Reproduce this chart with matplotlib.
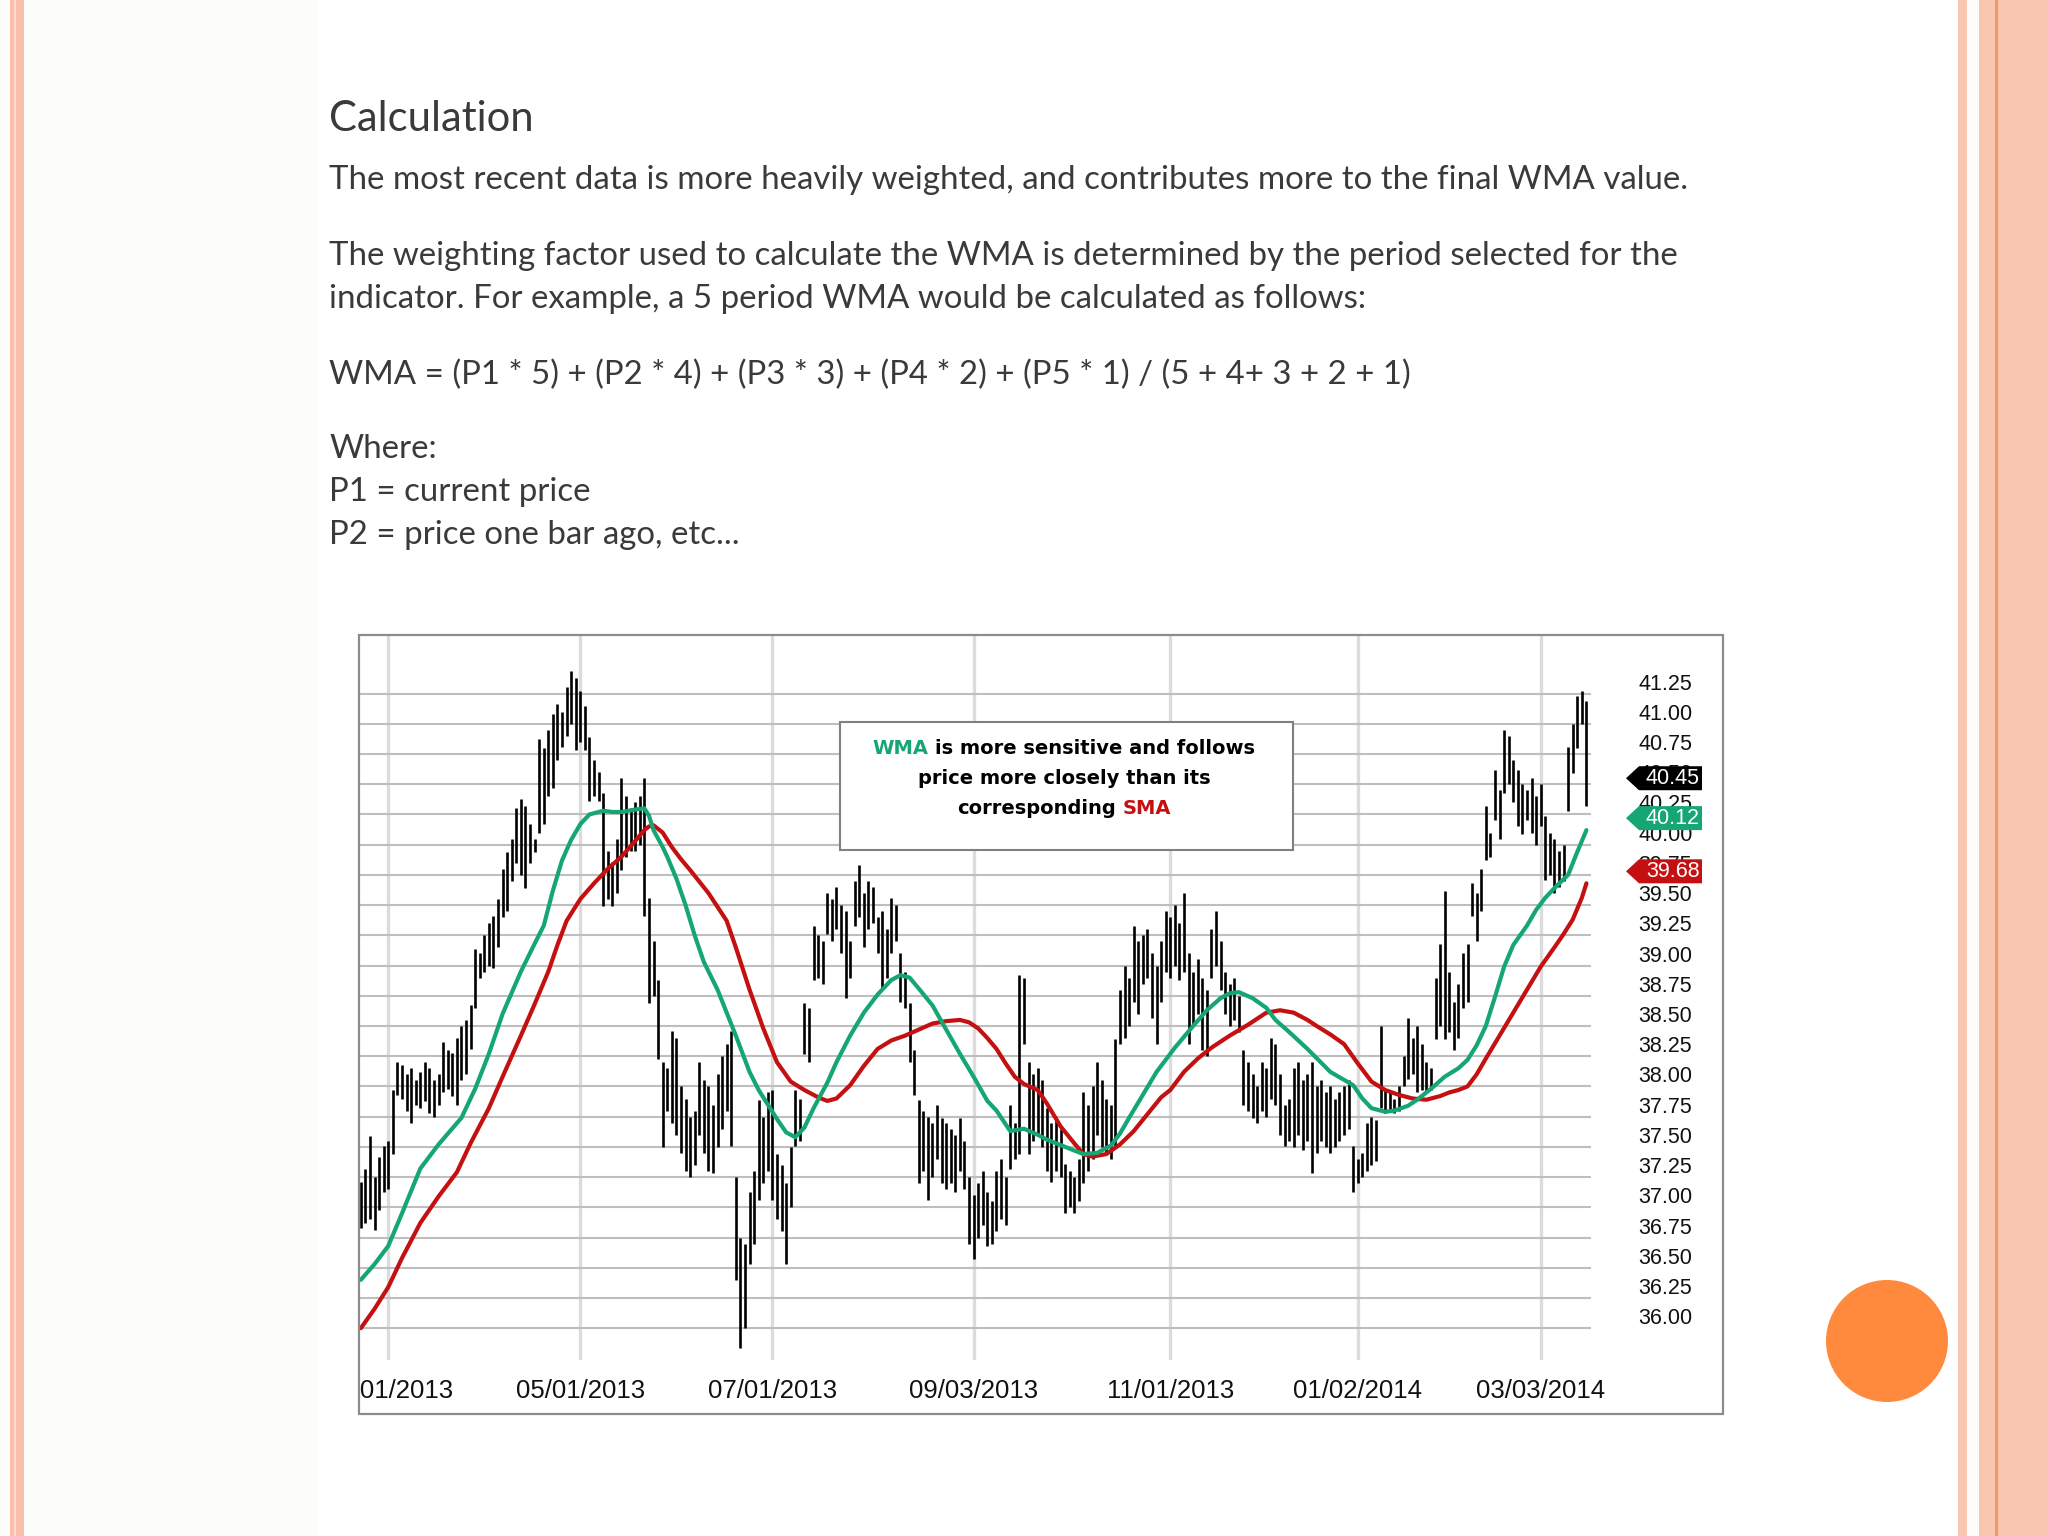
import numpy as np
import matplotlib.pyplot as plt
from matplotlib.patches import Rectangle, Polygon, Ellipse
from matplotlib import transforms as mtransforms

# daily bars, 2013-02-21 .. 2014-03-18 (high / low)
highs = [
    37.21, 37.32, 37.59, 37.25, 37.42, 37.51, 37.55, 37.97, 38.20, 38.18,
    38.10, 38.15, 38.05, 38.12, 38.20, 38.15, 38.05, 38.10, 38.37, 38.30,
    38.28, 38.40, 38.50, 38.55, 38.67, 39.14, 39.10, 39.25, 39.35, 39.41,
    39.55, 39.80, 39.94, 40.05, 40.30, 40.38, 40.32, 40.17, 40.05, 40.87,
    40.80, 40.95, 41.08, 41.16, 41.10, 41.30, 41.44, 41.38, 41.27, 41.15,
    40.89, 40.70, 40.60, 40.43, 39.95, 39.86, 40.05, 40.55, 40.40, 40.30,
    40.35, 40.40, 40.55, 39.56, 39.20, 38.88, 38.20, 38.15, 38.46, 38.40,
    38.00, 37.90, 37.75, 37.80, 38.20, 38.05, 38.00, 37.85, 38.10, 38.25,
    38.35, 38.46, 37.25, 36.75, 36.70, 37.13, 37.30, 37.89, 37.75, 37.95,
    37.97, 37.44, 37.35, 37.20, 37.50, 37.97, 37.90, 38.69, 38.65, 39.33,
    39.25, 39.20, 39.60, 39.55, 39.65, 39.50, 39.45, 39.20, 39.70, 39.83,
    39.60, 39.70, 39.65, 39.40, 39.45, 39.30, 39.56, 39.50, 39.10, 38.95,
    38.69, 38.30, 37.89, 37.80, 37.75, 37.70, 37.85, 37.74, 37.70, 37.65,
    37.60, 37.74, 37.55, 37.25, 37.10, 37.20, 37.30, 37.13, 37.05, 37.30,
    37.40, 37.25, 37.85, 37.70, 38.92, 38.90, 38.20, 38.10, 38.15, 38.05,
    37.82, 37.70, 37.75, 37.65, 37.36, 37.30, 37.25, 37.40, 37.95, 37.85,
    38.00, 38.20, 38.05, 37.90, 37.85, 38.39, 38.80, 39.00, 38.90, 39.33,
    39.20, 39.25, 39.30, 39.10, 39.00, 39.20, 39.45, 39.40, 39.50, 39.35,
    39.60, 39.10, 38.95, 39.05, 38.90, 38.80, 39.30, 39.45, 39.20, 38.95,
    38.85, 38.90, 38.75, 38.30, 38.20, 38.10, 38.00, 38.20, 38.15, 38.40,
    38.35, 38.10, 37.85, 37.90, 38.15, 38.20, 38.05, 38.10, 38.20, 38.00,
    38.05, 37.95, 38.00, 37.90, 37.95, 38.00, 38.05, 37.51, 37.40, 37.45,
    37.70, 37.75, 37.72, 38.50, 37.97, 37.95, 37.90, 38.00, 38.25, 38.57,
    38.40, 38.50, 38.35, 38.20, 38.15, 38.90, 39.18, 39.62, 38.95, 38.70,
    38.85, 39.10, 39.18, 39.68, 39.60, 39.80, 40.32, 40.10, 40.62, 40.45,
    40.95, 40.90, 40.70, 40.62, 40.50, 40.45, 40.55, 40.40, 40.50, 40.24,
    40.10, 40.05, 39.95, 40.00, 40.81, 41.00, 41.23, 41.27, 41.19,
]
lows = [
    36.83, 36.87, 36.90, 36.81, 36.98, 37.13, 37.15, 37.44, 37.93, 37.90,
    37.80, 37.70, 37.85, 37.82, 37.88, 37.78, 37.75, 37.85, 37.95, 37.98,
    37.92, 37.85, 38.05, 38.10, 38.31, 38.65, 38.90, 38.95, 39.00, 38.98,
    39.15, 39.40, 39.45, 39.70, 39.85, 39.75, 39.64, 39.85, 39.94, 40.10,
    40.17, 40.40, 40.47, 40.70, 40.81, 40.90, 41.00, 40.78, 40.85, 40.78,
    40.36, 40.40, 40.36, 39.49, 39.55, 39.49, 39.60, 39.79, 39.90, 39.95,
    39.95, 40.00, 39.41, 38.69, 38.75, 38.23, 37.50, 37.80, 37.70, 37.60,
    37.45, 37.30, 37.25, 37.35, 37.60, 37.45, 37.30, 37.28, 37.50, 37.65,
    37.80, 37.51, 36.40, 35.84, 36.00, 36.53, 36.70, 37.06, 37.20, 37.30,
    37.06, 36.90, 36.80, 36.53, 37.00, 37.51, 37.55, 38.27, 38.20, 38.88,
    38.90, 38.85, 39.26, 39.20, 39.30, 39.10, 38.73, 38.90, 39.33, 39.40,
    39.15, 39.30, 39.35, 39.10, 38.80, 38.90, 39.10, 39.20, 38.70, 38.65,
    38.20, 37.93, 37.20, 37.30, 37.06, 37.25, 37.40, 37.20, 37.15, 37.20,
    37.13, 37.30, 37.15, 36.70, 36.57, 36.75, 36.85, 36.68, 36.70, 36.80,
    36.90, 36.85, 37.32, 37.40, 37.44, 38.35, 37.44, 37.55, 37.60, 37.50,
    37.30, 37.21, 37.30, 37.25, 36.95, 37.00, 36.95, 37.05, 37.20, 37.30,
    37.40, 37.60, 37.50, 37.44, 37.40, 37.51, 38.35, 38.40, 38.50, 38.70,
    38.60, 38.85, 38.90, 38.57, 38.35, 38.70, 38.95, 38.90, 39.00, 38.88,
    38.95, 38.35, 38.50, 38.60, 38.30, 38.25, 38.90, 39.00, 38.80, 38.60,
    38.50, 38.55, 38.45, 37.85, 37.80, 37.74, 37.70, 37.80, 37.75, 37.90,
    37.85, 37.60, 37.51, 37.55, 37.50, 37.60, 37.47, 37.55, 37.28, 37.45,
    37.55, 37.50, 37.45, 37.50, 37.55, 37.60, 37.65, 37.13, 37.20, 37.25,
    37.30, 37.35, 37.38, 37.82, 37.78, 37.80, 37.78, 37.80, 38.00, 38.06,
    38.10, 37.95, 37.97, 37.95, 37.97, 38.39, 38.50, 38.39, 38.45, 38.30,
    38.40, 38.65, 38.70, 39.41, 39.20, 39.45, 39.87, 39.90, 40.20, 40.05,
    40.43, 40.50, 40.35, 40.15, 40.09, 40.20, 40.10, 40.00, 40.15, 39.71,
    39.75, 39.60, 39.65, 39.70, 40.28, 40.59, 40.80, 41.00, 40.32,
]
last_close = 40.45

# moving averages read at bar positions
wma_idx = [0, 3, 6, 9, 13, 17, 22, 25, 28, 31, 35, 38, 40, 42, 44, 46, 48, 50, 53, 55,
           57, 60, 62, 63, 64, 66, 67, 69, 71, 73, 75, 78, 80, 82, 85, 87, 89, 91, 93, 95,
           97, 99, 102, 104, 107, 110, 113, 116, 118, 120, 122, 125, 128, 131, 134, 137, 139,
           142, 145, 148, 150, 154, 158, 161, 164, 166, 168, 171, 174, 178, 182, 185, 188,
           190, 192, 195, 198, 200, 203, 207, 212, 217, 219, 221, 224, 226, 229, 231, 234,
           237, 240, 242, 244, 246, 248, 250, 252, 255, 257, 259, 261, 264, 266, 268]
wma_val = [36.40, 36.53, 36.68, 36.95, 37.32, 37.52, 37.74, 37.98, 38.27, 38.60,
           38.95, 39.18, 39.33, 39.62, 39.87, 40.04, 40.17, 40.25, 40.28, 40.27,
           40.27, 40.29, 40.30, 40.24, 40.12, 39.98, 39.90, 39.72, 39.50, 39.25,
           39.03, 38.80, 38.61, 38.42, 38.12, 37.97, 37.85, 37.73, 37.62, 37.58,
           37.66, 37.82, 38.03, 38.20, 38.42, 38.61, 38.76, 38.88, 38.92, 38.90,
           38.81, 38.67, 38.47, 38.27, 38.08, 37.88, 37.80, 37.63, 37.65, 37.60,
           37.56, 37.50, 37.44, 37.45, 37.51, 37.61, 37.74, 37.93, 38.12, 38.32,
           38.50, 38.63, 38.73, 38.77, 38.78, 38.73, 38.65, 38.55, 38.45, 38.31,
           38.12, 38.01, 37.90, 37.82, 37.79, 37.80, 37.84, 37.89, 37.98, 38.08,
           38.15, 38.22, 38.34, 38.50, 38.74, 38.99, 39.17, 39.33, 39.46, 39.56,
           39.64, 39.75, 39.94, 40.12]
sma_idx = [0, 3, 6, 9, 13, 17, 21, 24, 28, 31, 35, 38, 41, 43, 45, 48, 51, 54, 57, 60,
           62, 63, 64, 66, 68, 70, 72, 76, 80, 82, 85, 88, 91, 94, 97, 100, 102, 104, 107,
           110, 113, 116, 119, 122, 125, 128, 131, 133, 135, 137, 139, 141, 143, 145, 148,
           150, 153, 156, 158, 160, 163, 166, 169, 172, 175, 177, 180, 183, 186, 190, 194,
           198, 201, 204, 207, 209, 212, 215, 218, 221, 224, 227, 230, 233, 236, 238, 240,
           242, 244, 246, 249, 252, 255, 258, 261, 263, 265, 267, 268]
sma_val = [36.00, 36.16, 36.34, 36.58, 36.87, 37.09, 37.29, 37.53, 37.82, 38.08,
           38.42, 38.68, 38.95, 39.17, 39.37, 39.55, 39.68, 39.80, 39.90, 40.03,
           40.12, 40.15, 40.16, 40.10, 39.98, 39.88, 39.79, 39.60, 39.37, 39.15,
           38.80, 38.48, 38.20, 38.04, 37.97, 37.91, 37.88, 37.90, 38.01, 38.17,
           38.31, 38.38, 38.42, 38.47, 38.52, 38.54, 38.55, 38.53, 38.48, 38.40,
           38.31, 38.19, 38.08, 38.02, 37.97, 37.86, 37.67, 37.53, 37.44, 37.42,
           37.44, 37.52, 37.63, 37.77, 37.91, 37.97, 38.12, 38.23, 38.32, 38.42,
           38.51, 38.61, 38.63, 38.61, 38.55, 38.50, 38.43, 38.35, 38.19, 38.04,
           37.97, 37.93, 37.90, 37.89, 37.92, 37.95, 37.97, 38.00, 38.10, 38.23,
           38.42, 38.61, 38.80, 38.99, 39.15, 39.26, 39.38, 39.56, 39.68]

start_date = '2013-02-21'
tick_dates = ['2013-03-01', '2013-05-01', '2013-07-01', '2013-09-03',
              '2013-11-01', '2014-01-02', '2014-03-03']
tick_labels = ['03/01/2013', '05/01/2013', '07/01/2013', '09/03/2013',
               '11/01/2013', '01/02/2014', '03/03/2014']
holidays = ['2013-03-29', '2013-05-27', '2013-07-04', '2013-09-02', '2013-11-28',
            '2013-12-25', '2014-01-01', '2014-01-20', '2014-02-17']
price_ticks = np.arange(36.0, 41.26, 0.25)

body_lines = [
    'The most recent data is more heavily weighted, and contributes more to the final WMA value.',
    'The weighting factor used to calculate the WMA is determined by the period selected for the',
    'indicator. For example, a 5 period WMA would be calculated as follows:',
    'WMA = (P1 * 5) + (P2 * 4) + (P3 * 3) + (P4 * 2) + (P5 * 1) / (5 + 4+ 3 + 2 + 1)',
    'Where:',
    'P1 = current price',
    'P2 = price one bar ago, etc...',
]
body_y = [180, 256, 299, 375, 449, 492, 535]

GREEN = '#15A673'
RED = '#C41010'
TEXT = '#3A3A3A'
BODY_FONT = ['Lato', 'DejaVu Sans']
CHART_FONT = ['Liberation Sans', 'DejaVu Sans']

W, H = 2048, 1536
fig = plt.figure(figsize=(W / 100, H / 100), dpi=100)
fig.patch.set_facecolor('#FCFCFB')
renderer = fig.canvas.get_renderer()


def fx(px):
    return px / W


def fy(py):
    return 1 - py / H


def fig_rect(x0, y0, x1, y1, **kw):
    r = Rectangle((fx(x0), fy(y1)), (x1 - x0) / W, (y1 - y0) / H,
                  transform=fig.transFigure, **kw)
    fig.add_artist(r)
    return r


def fit_size(text, width_px, family, weight='normal', base=20.0):
    t = fig.text(0, 0, text, fontsize=base, family=family, weight=weight)
    w = t.get_window_extent(renderer).width
    t.remove()
    return base * width_px / w


# slide decoration
fig_rect(318, 0, 1958, H, facecolor='white', edgecolor='none', zorder=-5)
fig_rect(10, 0, 24, H, facecolor='#F9BFAA', edgecolor='none', zorder=-4)
fig_rect(14, 0, 16, H, facecolor='#FCDCD0', edgecolor='none', zorder=-3)
fig_rect(1958, 0, 1967, H, facecolor='#FAC6B4', edgecolor='none', zorder=-4)
fig_rect(1979, 0, W, H, facecolor='#F9C7AF', edgecolor='none', zorder=-4)
fig_rect(1995, 0, 1998, H, facecolor='#F39A62', edgecolor='none', zorder=-3)
fig.add_artist(Ellipse((fx(1887), fy(1341)), 122 / W, 122 / H, transform=fig.transFigure,
                       facecolor='#FF8A3D', edgecolor='none', zorder=30))

# slide text
head_size = fit_size('Calculation', 205, BODY_FONT)
fig.text(fx(329), fy(119), 'Calculation', fontsize=head_size, family=BODY_FONT,
         color=TEXT, va='center')
body_size = fit_size(body_lines[0], 1362, BODY_FONT)
for line, y in zip(body_lines, body_y):
    fig.text(fx(329), fy(y), line, fontsize=body_size, family=BODY_FONT,
             color=TEXT, va='center')

# chart frame
fig_rect(359, 635, 1723, 1414, facecolor='white', edgecolor='none', zorder=-1)
fig_rect(359, 635, 1723, 1414, facecolor='none', edgecolor='#8C8C8C', lw=1.6, zorder=10)

ax = fig.add_axes([fx(359), fy(1360), (1591 - 359) / W, (1360 - 635) / H])
ax.set_facecolor('none')
for s in ax.spines.values():
    s.set_visible(False)

x = np.arange(len(highs))
tick_pos = [np.busday_count(start_date, d, holidays=holidays) for d in tick_dates]

ax.vlines(x, lows, highs, color='black', lw=1.9, zorder=3)
ax.plot(sma_idx, sma_val, color=RED, lw=3.0, solid_joinstyle='round',
        solid_capstyle='round', zorder=4)
ax.plot(wma_idx, wma_val, color=GREEN, lw=3.0, solid_joinstyle='round',
        solid_capstyle='round', zorder=5)

ax.set_xlim(-0.4, 269.0)
ax.set_ylim(35.737, 41.734)
ax.set_axisbelow(True)

ax.set_xticks(tick_pos)
ax.set_xticklabels(tick_labels, family=CHART_FONT, fontsize=18.5, color='#111111')
ax.grid(axis='x', color='#DCDCDC', lw=2.4)
ax.tick_params(axis='x', length=0, pad=14)

ax.set_yticks(price_ticks)
ax.set_yticklabels(['%.2f' % v for v in price_ticks], family=CHART_FONT,
                   fontsize=15.5, color='#111111')
ax.grid(axis='y', color='#BEBEBE', lw=1.5)
ax.yaxis.tick_right()
ax.tick_params(axis='y', length=0, pad=34)
lift = mtransforms.ScaledTranslation(0, 12 / 100, fig.dpi_scale_trans)
for lab in ax.get_yticklabels():
    lab.set_transform(lab.get_transform() + lift)

clip = mtransforms.TransformedBbox(mtransforms.Bbox.from_extents(fx(360), 0, fx(1722), 1),
                                   fig.transFigure)
for lab in ax.get_xticklabels():
    lab.set_clip_box(clip)
    lab.set_clip_on(True)


# price tags on the right axis
def price_tag(value, face):
    y = ax.transData.transform((0, value))[1] + 12
    x_tip, x_body, x_end, h = 1626, 1639, 1702, 12
    pts = [(x_tip, y), (x_body, y + h), (x_end, y + h), (x_end, y - h), (x_body, y - h)]
    fig.add_artist(Polygon([(px / W, py / H) for px, py in pts], closed=True,
                           transform=fig.transFigure, facecolor=face,
                           edgecolor='none', zorder=20))
    fig.text((x_body + x_end) / 2 / W + 0.001, y / H, '%.2f' % value, color='white',
             family=CHART_FONT, fontsize=15.5, ha='center', va='center', zorder=21)


price_tag(last_close, 'black')
price_tag(wma_val[-1], GREEN)
price_tag(sma_val[-1], RED)

# note box
fig_rect(840, 722, 1293, 850, facecolor='white', edgecolor='#808080', lw=1.5, zorder=15)
note_font = ['DejaVu Sans']
note_size = fit_size('WMA is more sensitive and follows', 383, note_font, 'bold')
t_a = fig.text(0, 0, 'aa', fontsize=note_size, family=note_font, weight='bold')
t_b = fig.text(0, 0, 'a a', fontsize=note_size, family=note_font, weight='bold')
space_w = t_b.get_window_extent(renderer).width - t_a.get_window_extent(renderer).width
t_a.remove()
t_b.remove()


def colored_line(parts, xc, yc):
    texts = [fig.text(0, fy(yc), s, color=c, fontsize=note_size, family=note_font,
                      weight='bold', va='center', zorder=16) for s, c in parts]
    widths = [t.get_window_extent(renderer).width for t in texts]
    total = sum(widths) + space_w * (len(parts) - 1)
    pos = xc - total / 2
    for t, w in zip(texts, widths):
        t.set_x(fx(pos))
        pos += w + space_w


colored_line([('WMA', GREEN), ('is more sensitive and follows', 'black')], 1064, 748)
colored_line([('price more closely than its', 'black')], 1064, 778)
colored_line([('corresponding', 'black'), ('SMA', RED)], 1064, 808)

fig.savefig('out.png', dpi=100, facecolor=fig.get_facecolor())
